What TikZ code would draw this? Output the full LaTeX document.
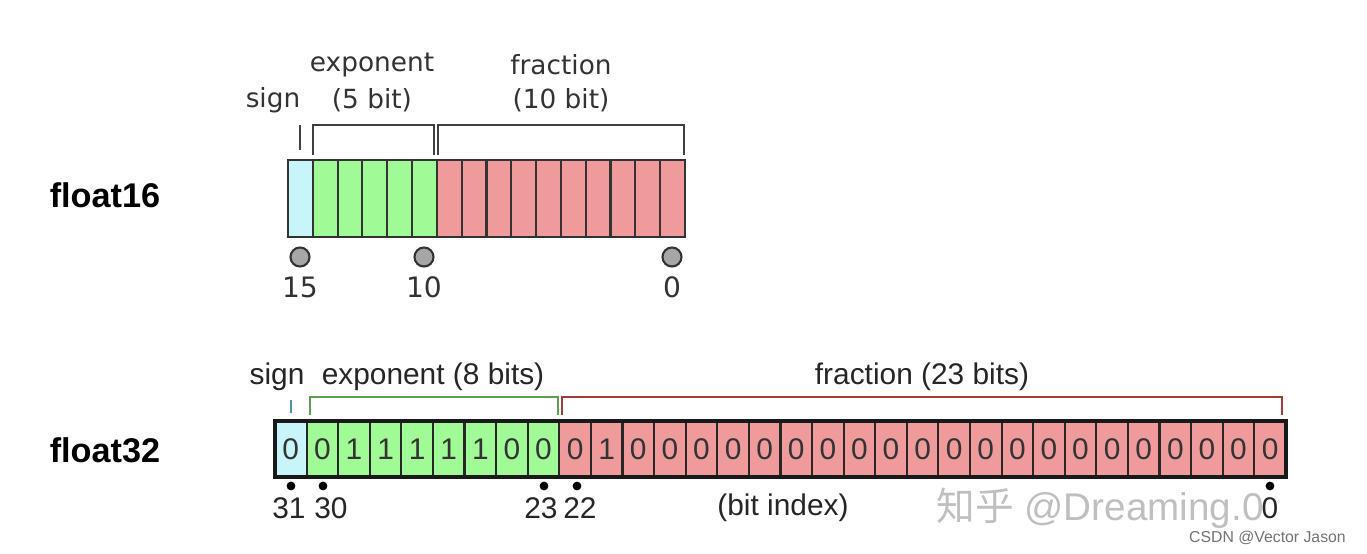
\documentclass[tikz,border=0pt]{standalone}
\usepackage{fontspec}
\setmainfont{Liberation Sans}
\newfontfamily\dejavu{DejaVu Sans}
\newfontfamily\cjk{Noto Sans CJK SC}
\usetikzlibrary{positioning}
\definecolor{signblue}{RGB}{200,245,250}
\definecolor{expgreen}{RGB}{160,250,150}
\definecolor{fracred}{RGB}{240,155,155}
\definecolor{brgreen}{RGB}{90,160,80}
\definecolor{brred}{RGB}{160,60,60}
\definecolor{brteal}{RGB}{80,150,160}
\tikzset{
  lbl/.style={font=\dejavu\fontsize{15}{17}\selectfont, text=black!80},
  lblb/.style={font=\fontsize{17}{19}\selectfont, text=black!85},
  bitnum/.style={font=\fontsize{17}{19}\selectfont, text=black!80},
  bigname/.style={font=\bfseries\fontsize{19.5}{22}\selectfont}
}
\begin{document}
\begin{tikzpicture}[x=0.02cm,y=-0.02cm]
    \useasboundingbox (0,0) rectangle (1367,554);
    % float16
    \node[bigname] (f16) at (105,195) {float16};
    \fill[signblue] (288,160) rectangle (312,237);
    \fill[expgreen] (312,160) rectangle (436,237);
    \fill[fracred] (436,160) rectangle (685,237);
    \foreach \i in {1,...,15}
      \draw[black!80, line width=1.2pt] ({288+\i*24.81},160) -- ({288+\i*24.81},237);
    \draw[black!80, line width=1.4pt] (288,160) rectangle (685,237);
    % brackets
    \draw[black!75, line width=1.4pt] (300,125) -- (300,150);
    \draw[black!75, line width=1.4pt] (313,155) -- (313,125) -- (434,125) -- (434,155);
    \draw[black!75, line width=1.4pt] (438,155) -- (438,125) -- (684,125) -- (684,155);
    \node[lbl] (s16) at (273,100) {sign};
    \node[lbl] (e16) at (372,65) {exponent};
    \node[lbl] (e16b) at (372,100) {(5 bit)};
    \node[lbl] (fr16) at (561,65) {fraction};
    \node[lbl] (fr16b) at (561,100) {(10 bit)};
    \foreach \x/\n in {300/15, 424/10, 672/0} {
      \node[circle, draw=black!80, fill=black!35, line width=1.2pt, minimum size=0.38cm, inner sep=0pt] (c\n) at (\x,257) {};
      \node[lbl, font=\dejavu\fontsize{16}{18}\selectfont] (n\n) at (\x,287) {\n};
    }
    % float32
    \node[bigname] (f32) at (105,450) {float32};
    \fill[signblue] (275,421) rectangle (307,477);
    \fill[expgreen] (307,421) rectangle (560,477);
    \fill[fracred] (560,421) rectangle (1286,477);
    \foreach \b [count=\i from 0] in {0,0,1,1,1,1,1,0,0,0,1,0,0,0,0,0,0,0,0,0,0,0,0,0,0,0,0,0,0,0,0,0} {
      \node[bitnum] (b\i) at ({275+(\i+0.5)*31.59},449) {\b};
      \ifnum\i>0 \draw[black!85, line width=1.2pt] ({275+\i*31.59},421) -- ({275+\i*31.59},477); \fi
    }
    \draw[black!90, line width=2pt] (275,421) rectangle (1286,477);
    \draw[brteal, line width=1.1pt] (291,400) -- (291,413);
    \draw[brgreen, line width=1.1pt] (310,415) -- (310,397) -- (558,397) -- (558,415);
    \draw[brred, line width=1.1pt] (562,415) -- (562,397) -- (1282,397) -- (1282,415);
    \node[lblb] (s32) at (277,377) {sign};
    \node[lblb] (e32) at (433,377) {exponent (8 bits)};
    \node[lblb] (fr32) at (922,377) {fraction (23 bits)};
    \foreach \x/\p/\n in {291/289/31, 323/331/30, 544/541/23, 577/580/22, 1270/1270/0} {
      \fill (\x,486) circle (2.5pt);
      \node[lblb] (m\n) at (\p,508) {\n};
    }
    \node[lblb] (idx) at (783,508) {(bit index)};
    % watermarks
    \node[text=black!25, font=\fontsize{22}{24}\selectfont] (wm) at (1100,508) {{\cjk 知乎} @Dreaming.0};
    \node[text=black!55, font=\fontsize{9}{10}\selectfont, anchor=east] (csdn) at (1352,538) {CSDN @Vector Jason};
\end{tikzpicture}
\end{document}
